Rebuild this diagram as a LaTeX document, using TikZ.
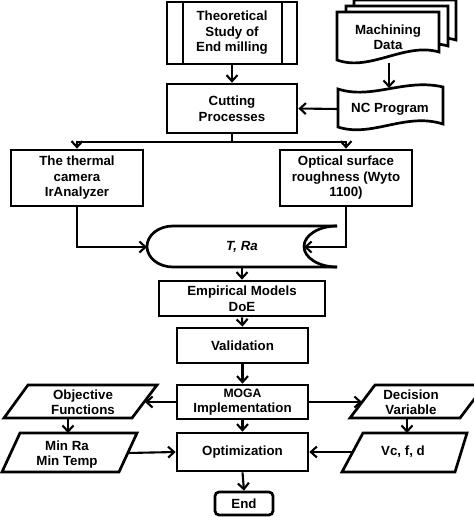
\documentclass[tikz,border=0pt]{standalone}
\usepackage{fontspec}
\setmainfont{Liberation Sans}
\usetikzlibrary{arrows.meta}
\begin{document}
\begin{tikzpicture}[x=1pt,y=-1pt,
  txt/.style={font=\fontsize{13.3}{15.5}\selectfont\bfseries, align=center, inner sep=0pt},
  box/.style={txt, draw, line width=2.7pt},
  shp/.style={line width=2.7pt, line join=miter, fill=white},
  arr/.style={line width=2.1pt, -{Straight Barb[length=6pt,width=11pt]}},
  ln/.style={line width=2.1pt}]
\useasboundingbox (0,0) rectangle (474,517);
\clip (0,0) rectangle (474,517);
\fill[white] (0,0) rectangle (474,517);

% Theoretical study (predefined process)
\node[box, minimum width=130pt, minimum height=62pt] (theo) at (232,33) {Theoretical\\Study of\\End milling};
\draw[line width=2.7pt] (183,2) -- (183,64) (282,2) -- (282,64);

% Machining data (multi document)
\begin{scope}[shift={(17,-12)}]
\draw[shp] (337,12) -- (439,12) -- (439,52) .. controls (405,42) and (370,72) .. (337,60) -- cycle;
\end{scope}
\begin{scope}[shift={(9,-6)}]
\draw[shp] (337,12) -- (439,12) -- (439,52) .. controls (405,42) and (370,72) .. (337,60) -- cycle;
\end{scope}
\draw[shp] (337,12) -- (439,12) -- (439,52) .. controls (405,42) and (370,72) .. (337,60) -- cycle;
\node[txt] (mdat) at (388,37) {Machining\\Data};
\coordinate (mdatB) at (389,63);

% NC program (punched tape)
\draw[shp] (338,89) .. controls (372,100) and (405,78) .. (443,87) -- (443,124) .. controls (405,112) and (372,138) .. (338,127) -- cycle;
\node[txt] (nc) at (390,109) {NC Program};
\coordinate (ncT) at (389,88);
\coordinate (ncL) at (338,109);

% Cutting processes
\node[box, minimum width=130pt, minimum height=49pt] (cut) at (232,108.5) {Cutting\\Processes};

% Measurement boxes
\node[box, minimum width=132pt, minimum height=56pt] (therm) at (77,178) {The thermal\\camera\\IrAnalyzer};
\node[box, minimum width=132pt, minimum height=56pt] (opt) at (346,178) {Optical surface\\roughness (Wyto\\1100)};
\coordinate (split) at (232,142);

% Stored data T, Ra
\draw[line width=2.7pt] (337,226) -- (173,226)
  .. controls (158.6,226) and (147,235.2) .. (147,246.5)
  .. controls (147,257.8) and (158.6,267) .. (173,267) -- (337,267);
\draw[line width=2.7pt] (337,226) .. controls (318.8,226) and (304,235.2) .. (304,246.5)
  .. controls (304,257.8) and (318.8,267) .. (337,267);
\node[txt] (tra) at (242,247) {\itshape T, Ra};
\coordinate (traL) at (147,247);
\coordinate (traR) at (304,247);
\coordinate (traB) at (242,267);

% Central column
\node[box, minimum width=166pt, minimum height=35pt] (emp) at (242,298.5) {Empirical Models\\DoE};
\node[box, minimum width=131pt, minimum height=35pt] (val) at (242.5,345.5) {Validation};
\node[box, minimum width=131pt, minimum height=34pt] (moga) at (242.5,402) {\fontsize{12.2}{15}\selectfont MOGA\\\fontsize{13.3}{15.5}\selectfont Implementation};
\node[box, minimum width=131pt, minimum height=38pt] (optim) at (242.5,452) {Optimization};
\node[box, rounded corners=4pt, minimum width=58pt, minimum height=23pt] (end) at (244,503.5) {End};

% Parallelograms
\draw[line width=2.7pt, line join=miter] (28,385) -- (157,385) -- (132,418) -- (4,418) -- cycle;
\node[txt] (obj) at (83,402) {Objective\\Functions};
\coordinate (objR) at (145,402);
\coordinate (objB) at (68,418);

\draw[line width=2.7pt, line join=miter] (20,433) -- (137,433) -- (119,472) -- (2,472) -- cycle;
\node[txt] (minr) at (67,454.5) {Min Ra\\Min Temp};
\coordinate (minT) at (68,433);
\coordinate (minR) at (128,453);

\draw[line width=2.7pt, line join=miter] (375,385) -- (485,385) -- (460,418) -- (350,418) -- cycle;
\node[txt] (dec) at (411,402) {Decision\\Variable};
\coordinate (decL) at (362,402);
\coordinate (decB) at (407,418);

\draw[line width=2.7pt, line join=miter] (363,433) -- (467,433) -- (455,472) -- (342,472) -- cycle;
\node[txt] (vc) at (403,452) {Vc, f, d};
\coordinate (vcT) at (407,433);
\coordinate (vcL) at (353,452);

% Connectors
\draw[arr] (theo.south) -- (cut.north);
\draw[arr] (mdatB) -- (ncT);
\draw[arr] (ncL) -- (cut.east);
\draw[ln] (cut.south) -- (split);
\draw[arr] (split) -| (therm.north);
\draw[arr] (split) -| (opt.north);
\draw[arr] (therm.south) |- (traL);
\draw[arr] (opt.south) |- (traR);
\draw[arr] (traB) -- (emp.north);
\draw[arr] (emp.south) -- (val.north);
\draw[arr] (val.south) -- (moga.north);
\draw[arr] (moga.west) -- (objR);
\draw[arr] (moga.east) -- (decL);
\draw[arr] (moga.south) -- (optim.north);
\draw[arr] (objB) -- (minT);
\draw[arr] (minR) -- (optim.west);
\draw[arr] (decB) -- (vcT);
\draw[arr] (vcL) -- (optim.east);
\draw[arr] (optim.south) -- (end.north);
\end{tikzpicture}
\end{document}
